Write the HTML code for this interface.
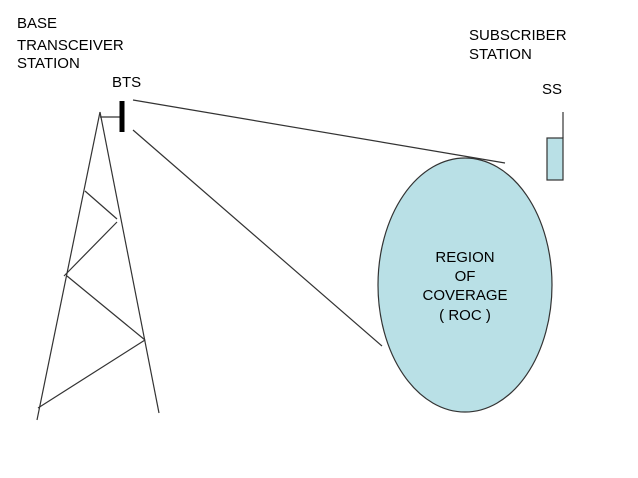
<!DOCTYPE html>
<html><head><style>
body{margin:0;background:#fff;width:638px;height:478px;overflow:hidden}
svg{display:block}
text{font-family:"Liberation Sans",Arial,sans-serif;font-size:15px;fill:#000}
</style></head><body>
<svg width="638" height="478" viewBox="0 0 638 478">
<g stroke="#333" stroke-width="1.2" fill="none">
<line x1="100" y1="112" x2="37" y2="420"/>
<line x1="100" y1="112" x2="159" y2="413"/>
<line x1="85" y1="191" x2="117" y2="219"/>
<line x1="117" y1="222" x2="64" y2="276"/>
<line x1="67" y1="276" x2="145" y2="340"/>
<line x1="145" y1="340" x2="38" y2="408"/>
<line x1="100" y1="117" x2="122" y2="117"/>
<line x1="133" y1="100" x2="505" y2="163"/>
<line x1="133" y1="130" x2="382" y2="346"/>
<line x1="563" y1="112" x2="563" y2="138"/>
</g>
<rect x="119.5" y="101" width="5" height="31" fill="#000"/>
<ellipse cx="465" cy="285" rx="87" ry="127" fill="#b9e0e6" stroke="#333" stroke-width="1.2"/>
<rect x="547" y="138" width="16" height="42" fill="#b9e0e6" stroke="#333" stroke-width="1.2"/>
<text x="17" y="28">BASE</text>
<text x="17" y="50">TRANSCEIVER</text>
<text x="17" y="68">STATION</text>
<text x="112" y="87">BTS</text>
<text x="469" y="40">SUBSCRIBER</text>
<text x="469" y="59">STATION</text>
<text x="542" y="94">SS</text>
<text x="465" y="262" text-anchor="middle">REGION</text>
<text x="465" y="281" text-anchor="middle">OF</text>
<text x="465" y="300" text-anchor="middle">COVERAGE</text>
<text x="465" y="320" text-anchor="middle">( ROC )</text>
</svg>
</body></html>
